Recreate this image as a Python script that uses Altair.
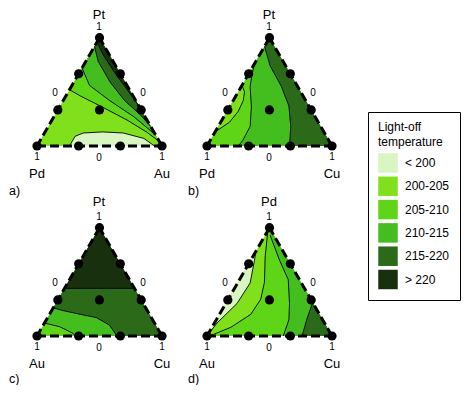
import altair as alt
import pandas as pd

# ---------------- values ----------------
PANEL_IDS = ["a", "b", "c", "d"]
PANEL_TAGS = ["a)", "b)", "c)", "d)"]
TOP_ELEMENT = ["Pt", "Pt", "Pt", "Pd"]
LEFT_ELEMENT = ["Pd", "Pd", "Au", "Au"]
RIGHT_ELEMENT = ["Au", "Cu", "Cu", "Cu"]
TICK_TEXT = ["1", "0", "0", "1", "0", "1"]  # top, left edge, right edge, bottom-left, bottom, bottom-right

CLASSES = ["< 200", "200-205", "205-210", "210-215", "215-220", "> 220"]
CLASS_COLORS = ["#d8f5c2", "#80e01c", "#5ed516", "#44bd1f", "#2a6a18", "#19300f"]

# measured compositions (fraction of top element, fraction of right element)
SAMPLE_TOP = [1.0, 0.667, 0.333, 0.0, 0.0, 0.0, 0.0, 0.333, 0.667, 0.333]
SAMPLE_RIGHT = [0.0, 0.0, 0.0, 0.0, 0.333, 0.667, 1.0, 0.667, 0.333, 0.333]

BASE_CLASS = ["200-205", "205-210", "205-210", "200-205"]

# contour boundaries (fraction of top element, fraction of right element)
A_LOW = [(0.0, 0.26), (0.09, 0.26), (0.12, 0.31), (0.13, 0.46), (0.12, 0.63), (0.07, 0.82), (0.0, 0.94)]
A_205 = [(0.52, 0.0), (0.46, 0.12), (0.37, 0.32), (0.24, 0.60), (0.13, 0.81), (0.04, 0.96)]
A_210 = [(0.72, 0.0), (0.56, 0.14), (0.42, 0.37), (0.27, 0.64), (0.10, 0.90)]
A_215 = [(0.92, 0.0), (0.78, 0.10), (0.59, 0.29), (0.42, 0.49), (0.29, 0.68), (0.18, 0.82)]
A_220 = [(0.96, 0.0), (0.84, 0.11), (0.69, 0.27), (0.53, 0.45), (0.37, 0.63)]

B_200 = [(0.56, 0.0), (0.50, 0.05), (0.42, 0.08), (0.32, 0.09), (0.22, 0.07), (0.13, 0.0)]
B_210 = [(0.76, 0.0), (0.66, 0.03), (0.55, 0.07), (0.36, 0.175), (0.18, 0.255), (0.05, 0.26), (0.0, 0.25)]
B_215 = [(0.92, 0.0), (0.74, 0.135), (0.55, 0.32), (0.37, 0.47), (0.18, 0.58), (0.0, 0.66)]

C_210 = [(0.12, 0.0), (0.085, 0.14), (0.03, 0.265), (0.0, 0.31)]
C_215 = [(0.26, 0.0), (0.235, 0.09), (0.195, 0.27), (0.17, 0.39), (0.10, 0.53), (0.0, 0.64)]
C_220 = [(0.44, 0.0), (0.44, 0.56)]

D_200 = [(0.78, 0.0), (0.70, 0.03), (0.49, 0.10), (0.30, 0.09), (0.12, 0.02), (0.0, 0.0)]
D_205 = [(0.95, 0.01), (0.73, 0.10), (0.50, 0.21), (0.34, 0.26), (0.20, 0.25), (0.08, 0.15), (0.0, 0.02)]
D_210 = [(0.93, 0.04), (0.70, 0.23), (0.52, 0.39), (0.30, 0.51), (0.15, 0.58), (0.0, 0.61)]
D_215 = [(0.31, 0.69), (0.16, 0.72), (0.0, 0.76)]

# ---------------- layout ----------------
W, H = 458, 377
SIDE, TRI_H = 125.0, 108.3
ORIGINS = [(29, 138), (199, 138), (29, 328), (199, 328)]  # bottom-left vertex of each triangle
TAG_DX = [-28, -19, -28, -19]
TAG_DY = [45, 45, 43, 43]
TOP_DY = [-131.5, -131.5, -134, -134]
FONT = "Liberation Sans"

TOPV, LEFTV, RIGHTV = (1.0, 0.0), (0.0, 0.0), (0.0, 1.0)

REGIONS = [
    (0, A_205, "205-210", 1, [TOPV]),
    (0, A_210, "210-215", 2, [TOPV]),
    (0, A_215, "215-220", 3, [TOPV]),
    (0, A_220, "> 220", 4, [TOPV]),
    (0, A_LOW, "< 200", 1, []),
    (1, B_200, "200-205", 1, []),
    (1, B_210, "210-215", 1, [RIGHTV, TOPV]),
    (1, B_215, "215-220", 2, [RIGHTV, TOPV]),
    (2, C_210, "210-215", 1, [RIGHTV, TOPV]),
    (2, C_215, "215-220", 2, [RIGHTV, TOPV]),
    (2, C_220, "> 220", 3, [TOPV]),
    (3, D_200, "< 200", 1, []),
    (3, D_205, "205-210", 1, [RIGHTV, TOPV]),
    (3, D_210, "210-215", 2, [RIGHTV, TOPV]),
    (3, D_215, "215-220", 3, [RIGHTV]),
]


def to_xy(p, t, r):
    bx, by = ORIGINS[p]
    return bx + SIDE * (r + t / 2.0), by - TRI_H * t


poly_rows, line_rows = [], []
for p in range(4):
    for i, (t, r) in enumerate([LEFTV, RIGHTV, TOPV]):
        x, y = to_xy(p, t, r)
        poly_rows.append(dict(rid=f"base{p}", cls=BASE_CLASS[p], lvl=0, i=i, x=x, y=y))
for k, (p, pts, cls, lvl, closure) in enumerate(REGIONS):
    for i, (t, r) in enumerate(list(pts) + closure):
        x, y = to_xy(p, t, r)
        poly_rows.append(dict(rid=f"r{k}", cls=cls, lvl=lvl, i=i, x=x, y=y))
    for i, (t, r) in enumerate(pts):
        x, y = to_xy(p, t, r)
        line_rows.append(dict(rid=f"r{k}", i=i, x=x, y=y))
polys = pd.DataFrame(poly_rows)
lines = pd.DataFrame(line_rows)

edge_rows = []
for p in range(4):
    corners = [LEFTV, RIGHTV, TOPV]
    for e in range(3):
        for j, c in enumerate([corners[e], corners[(e + 1) % 3]]):
            x, y = to_xy(p, *c)
            edge_rows.append(dict(eid=f"{p}-{e}", i=j, x=x, y=y))
edges = pd.DataFrame(edge_rows)

dot_rows = []
for p in range(4):
    for t, r in zip(SAMPLE_TOP, SAMPLE_RIGHT):
        x, y = to_xy(p, t, r)
        dot_rows.append(dict(x=x, y=y))
dots = pd.DataFrame(dot_rows)

TICK_OFFSETS = [(62, -119), (18, -53), (106, -53), (0, 11), (62, 12), (125, 11)]
elem_rows, tick_rows, tag_rows = [], [], []
for p in range(4):
    bx, by = ORIGINS[p]
    elem_rows.append(dict(x=bx + 62, y=by + TOP_DY[p], text=TOP_ELEMENT[p]))
    elem_rows.append(dict(x=bx, y=by + 28, text=LEFT_ELEMENT[p]))
    elem_rows.append(dict(x=bx + 125, y=by + 28, text=RIGHT_ELEMENT[p]))
    for (dx, dy), s in zip(TICK_OFFSETS, TICK_TEXT):
        tick_rows.append(dict(x=bx + dx, y=by + dy, text=s))
    tag_rows.append(dict(x=bx + TAG_DX[p], y=by + TAG_DY[p], text=PANEL_TAGS[p]))
elems = pd.DataFrame(elem_rows)
ticks = pd.DataFrame(tick_rows)
tags = pd.DataFrame(tag_rows)

X = alt.X("x:Q", scale=alt.Scale(domain=[0, W], nice=False, zero=False), axis=None)
Y = alt.Y("y:Q", scale=alt.Scale(domain=[0, H], reverse=True, nice=False, zero=False), axis=None)

legend = alt.Legend(
    title=["Light-off", "temperature"], orient="none", legendX=360, legendY=104,
    symbolType="square", symbolSize=380, symbolStrokeWidth=0, symbolOpacity=1,
    strokeColor="black", padding=10, titleFont=FONT, titleFontSize=12,
    titleFontWeight="normal", titleColor="black", titleLineHeight=15, titlePadding=4,
    labelFont=FONT, labelFontSize=12, labelColor="black", labelOffset=7, rowPadding=3.3,
)
COLOR = alt.Color("cls:N", scale=alt.Scale(domain=CLASSES, range=CLASS_COLORS), legend=legend)

layers = []
for lvl in range(5):
    layers.append(
        alt.Chart(polys).transform_filter(alt.datum.lvl == lvl)
        .mark_line(filled=True, interpolate="linear-closed", strokeWidth=0)
        .encode(x=X, y=Y, color=COLOR, detail="rid:N", order="i:Q")
    )

contours = alt.Chart(lines).mark_line(color="black", strokeWidth=0.9).encode(
    x=X, y=Y, detail="rid:N", order="i:Q")
edge_layer = alt.Chart(edges).mark_line(color="black", strokeWidth=3, strokeDash=[9, 4]).encode(
    x=X, y=Y, detail="eid:N", order="i:Q")
dot_layer = alt.Chart(dots).mark_circle(size=85, color="black", opacity=1).encode(x=X, y=Y)
elem_layer = alt.Chart(elems).mark_text(font=FONT, fontSize=13, color="black", baseline="middle").encode(
    x=X, y=Y, text="text:N")
tick_layer = alt.Chart(ticks).mark_text(font=FONT, fontSize=10, color="black", baseline="middle").encode(
    x=X, y=Y, text="text:N")
tag_layer = alt.Chart(tags).mark_text(font=FONT, fontSize=12.5, color="black", baseline="middle",
                                      align="left").encode(x=X, y=Y, text="text:N")

chart = alt.layer(*layers, contours, edge_layer, dot_layer, elem_layer, tick_layer, tag_layer).properties(
    width=W, height=H, padding=0, autosize=alt.AutoSizeParams(type="none")
).configure_view(stroke=None)

chart.save("out.html", embed_options={"renderer": "svg", "actions": False})
